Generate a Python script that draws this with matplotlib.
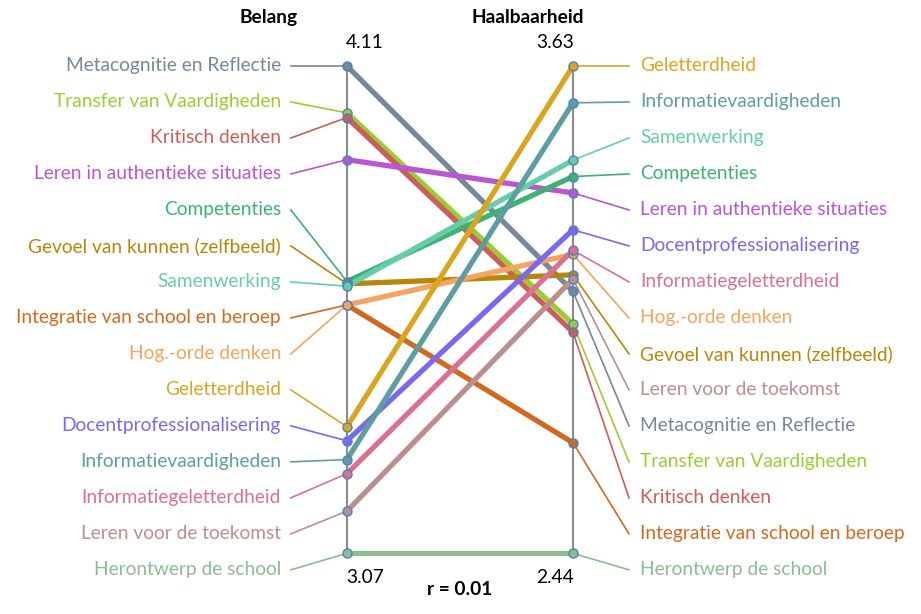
import numpy as np
import matplotlib
matplotlib.use('Agg')
import matplotlib.pyplot as plt

plt.rcParams['font.family'] = ['Lato', 'DejaVu Sans']

# items, in left-hand order
items = [
    'Metacognitie en Reflectie', 'Transfer van Vaardigheden', 'Kritisch denken',
    'Leren in authentieke situaties', 'Competenties', 'Gevoel van kunnen (zelfbeeld)',
    'Samenwerking', 'Integratie van school en beroep', 'Hog.-orde denken',
    'Geletterdheid', 'Docentprofessionalisering', 'Informatievaardigheden',
    'Informatiegeletterdheid', 'Leren voor de toekomst', 'Herontwerp de school',
]
belang = [4.11, 4.01, 4.00, 3.91, 3.65, 3.645, 3.64, 3.60, 3.60,
          3.34, 3.31, 3.27, 3.24, 3.16, 3.07]
haalbaarheid = [3.08, 3.00, 2.98, 3.32, 3.36, 3.12, 3.40, 2.71, 3.17,
                3.63, 3.23, 3.54, 3.18, 3.11, 2.44]
colors = ['lightslategray', 'yellowgreen', 'indianred', 'mediumorchid',
          'mediumseagreen', 'darkgoldenrod', 'mediumaquamarine', 'chocolate',
          'sandybrown', 'goldenrod', 'mediumslateblue', 'cadetblue',
          'palevioletred', 'rosybrown', 'darkseagreen']
r_value = 0.01

belang = np.array(belang)
haalbaarheid = np.array(haalbaarheid)


def norm(v):
    return (v - v.min()) / (v.max() - v.min())


yl = norm(belang)
yr = norm(haalbaarheid)
n = len(items)
slots = np.linspace(1, -0.034, n)
fs = 13.8

fig = plt.figure(figsize=(9.21, 6.14), dpi=100)
ax = fig.add_axes([0, 0, 1, 1])
ax.set_xlim(-1.535, 2.540)
ax.set_ylim(-0.1246, 1.1354)
ax.axis('off')

axis_col = '#8c8c8c'
ax.plot([0, 0], [0, 1], color=axis_col, lw=1.5, zorder=1)
ax.plot([1, 1], [0, 1], color=axis_col, lw=1.5, zorder=1)

left_order = np.argsort(-belang, kind='stable')
right_order = np.argsort(-haalbaarheid, kind='stable')

for slot, i in zip(slots, left_order):
    ax.plot([-0.248, 0], [slot, yl[i]], color=colors[i], lw=1.2, zorder=2)
    ax.text(-0.292, slot, items[i], color=colors[i], fontsize=fs,
            ha='right', va='center')

for slot, i in zip(slots, right_order):
    ax.plot([1, 1.248], [yr[i], slot], color=colors[i], lw=1.2, zorder=2)
    ax.text(1.296, slot, items[i], color=colors[i], fontsize=fs,
            ha='left', va='center')

for i in range(n):
    ax.plot([0, 1], [yl[i], yr[i]], color=colors[i], lw=3.8,
            solid_capstyle='butt', zorder=3)

for i in range(n):
    ax.plot([0, 1], [yl[i], yr[i]], ls='none', marker='o', ms=6.5,
            mfc=colors[i], mec='#4f81bd', mew=1.0, zorder=4)

ax.text(0.08, 1.048, f'{belang.max():.2f}', fontsize=fs, ha='center', va='center')
ax.text(0.92, 1.048, f'{haalbaarheid.max():.2f}', fontsize=fs, ha='center', va='center')
ax.text(0.08, -0.05, f'{belang.min():.2f}', fontsize=fs, ha='center', va='center')
ax.text(0.92, -0.05, f'{haalbaarheid.min():.2f}', fontsize=fs, ha='center', va='center')

ax.text(-0.345, 1.0985, 'Belang', fontsize=fs, fontweight='bold', ha='center', va='center')
ax.text(0.8, 1.0985, 'Haalbaarheid', fontsize=fs, fontweight='bold', ha='center', va='center')
ax.text(0.5, -0.0738, f'r = {r_value:.2f}', fontsize=fs, fontweight='bold',
        ha='center', va='center')

fig.savefig('out.png', dpi=100)
